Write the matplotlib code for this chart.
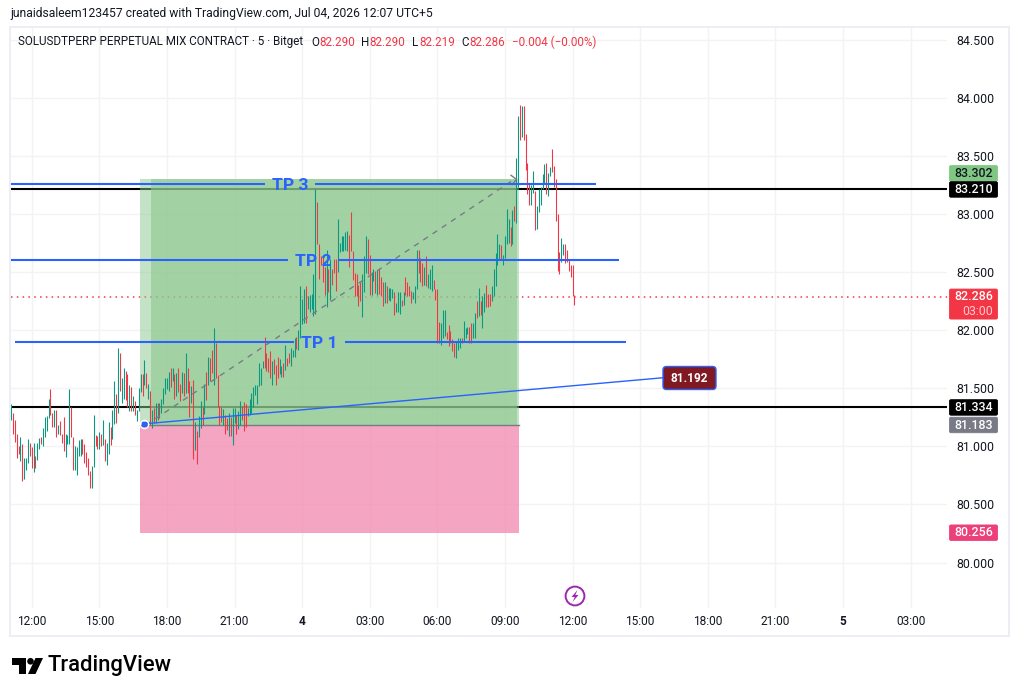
import matplotlib
matplotlib.use('Agg')
import matplotlib.pyplot as plt
from matplotlib.patches import Rectangle, Circle, Polygon, FancyBboxPatch

plt.rcParams['font.family'] = ['Roboto', 'DejaVu Sans']

# 5 minute bars
highs = [
    81.36, 81.29, 81.23, 81.11, 81.00, 81.08, 81.02, 80.90, 80.90, 81.06,
    81.03, 80.99, 81.03, 80.92, 81.03, 81.07, 81.08, 81.16, 81.25, 81.26,
    81.41, 81.49, 81.29, 81.31, 81.31, 81.18, 81.22, 81.11, 81.25, 81.11,
    81.10, 81.49, 81.34, 81.08, 81.00, 80.99, 81.05, 81.06, 81.06, 81.02,
    80.95, 80.90, 80.79, 80.83, 81.27, 81.10, 81.09, 81.12, 81.11, 81.23,
    81.06, 81.03, 81.21, 81.17, 81.31, 81.56, 81.45, 81.85, 81.80, 81.59,
    81.67, 81.65, 81.62, 81.53, 81.51, 81.43, 81.39, 81.31, 81.50, 81.62,
    81.62, 81.74, 81.63, 81.54, 81.48, 81.31, 81.33, 81.37, 81.37, 81.37,
    81.41, 81.50, 81.59, 81.59, 81.64, 81.67, 81.67, 81.62, 81.63, 81.67,
    81.54, 81.64, 81.63, 81.80, 81.67, 81.56, 81.52, 81.57, 81.21, 81.13,
    81.26, 81.39, 81.34, 81.54, 81.64, 81.77, 81.76, 81.83, 82.02, 81.89,
    81.61, 81.35, 81.34, 81.32, 81.27, 81.24, 81.29, 81.25, 81.33, 81.33,
    81.27, 81.30, 81.39, 81.35, 81.38, 81.36, 81.33, 81.41, 81.46, 81.51, 81.53,
    81.53, 81.72, 81.67, 81.73, 81.94, 81.80, 81.76, 81.82, 81.73, 81.75,
    81.70, 81.77, 81.75, 81.69, 81.72, 81.87, 81.76, 81.80, 81.85, 81.83,
    81.93, 81.94, 82.00, 82.38, 82.27, 82.35, 82.38, 82.29, 82.30, 82.31,
    82.48, 83.21, 83.10, 82.74, 82.64, 82.64, 82.54, 82.69, 82.53, 82.61,
    82.53, 82.61, 82.61, 82.96, 82.75, 82.81, 82.81, 82.84, 82.85, 82.82,
    83.02, 82.68, 82.49, 82.48, 82.39, 82.41, 82.48, 82.64, 82.81, 82.78,
    82.65, 82.50, 82.53, 82.51, 82.52, 82.53, 82.46, 82.41, 82.41, 82.38,
    82.36, 82.36, 82.35, 82.33, 82.23, 82.33, 82.33, 82.26, 82.33, 82.46,
    82.41, 82.38, 82.34, 82.33, 82.38, 82.69, 82.69, 82.62, 82.58, 82.54,
    82.64, 82.48, 82.53, 82.56, 82.43, 82.35, 82.35, 82.07, 82.06, 82.17,
    82.17, 81.98, 82.04, 81.99, 81.92, 81.89, 81.90, 81.93, 81.93, 81.93,
    82.08, 82.02, 82.03, 82.03, 82.06, 82.06, 82.15, 82.25, 82.36, 82.25,
    82.29, 82.32, 82.39, 82.31, 82.31, 82.38, 82.53, 82.66, 82.83, 82.74,
    82.73, 82.65, 82.81, 83.04, 82.96, 82.89, 83.03, 83.07, 83.48, 83.84,
    83.94, 83.93, 83.93, 83.69, 83.44, 83.26, 83.25, 83.37, 83.20, 83.07,
    83.21, 83.23, 83.34, 83.43, 83.44, 83.35, 83.40, 83.56, 83.41, 83.30,
    83.00, 82.67, 82.79, 82.74, 82.74, 82.69, 82.61, 82.56, 82.56, 82.30,
]
lows = [
    81.23, 81.11, 81.04, 80.90, 80.93, 80.87, 80.70, 80.72, 80.80, 80.86,
    80.92, 80.81, 80.78, 80.81, 80.88, 80.98, 81.02, 81.00, 81.08, 81.13,
    81.24, 81.27, 81.17, 81.17, 81.08, 81.11, 81.10, 81.03, 80.96, 80.91,
    81.02, 81.02, 81.08, 80.80, 80.80, 80.75, 80.92, 80.92, 80.93, 80.86,
    80.82, 80.75, 80.64, 80.64, 80.82, 81.00, 80.98, 80.98, 81.00, 81.01,
    80.87, 80.84, 80.93, 81.01, 81.06, 81.19, 81.20, 81.29, 81.48, 81.37,
    81.41, 81.40, 81.34, 81.30, 81.30, 81.30, 81.27, 81.22, 81.30, 81.47,
    81.43, 81.53, 81.50, 81.41, 81.18, 81.16, 81.20, 81.20, 81.23, 81.24,
    81.29, 81.36, 81.45, 81.49, 81.48, 81.51, 81.56, 81.41, 81.43, 81.47,
    81.39, 81.46, 81.43, 81.46, 81.46, 81.25, 81.37, 80.89, 80.97, 80.85,
    81.08, 81.16, 81.18, 81.28, 81.40, 81.53, 81.56, 81.63, 81.53, 81.59,
    81.34, 81.18, 81.21, 81.18, 81.11, 81.14, 81.09, 81.09, 81.01, 81.20,
    81.11, 81.15, 81.18, 81.23, 81.13, 81.17, 81.26, 81.27, 81.29, 81.34, 81.44,
    81.36, 81.52, 81.53, 81.67, 81.67, 81.65, 81.64, 81.59, 81.53, 81.62,
    81.53, 81.59, 81.62, 81.60, 81.60, 81.66, 81.69, 81.72, 81.69, 81.77,
    81.77, 81.84, 81.83, 81.93, 82.05, 82.06, 82.06, 82.18, 82.16, 82.18,
    82.12, 82.14, 82.74, 82.44, 82.56, 82.41, 82.30, 82.20, 82.33, 82.26,
    82.39, 82.49, 82.34, 82.50, 82.67, 82.68, 82.68, 82.69, 82.68, 82.54,
    82.68, 82.43, 82.29, 82.29, 82.21, 82.25, 82.11, 82.33, 82.49, 82.48,
    82.30, 82.30, 82.42, 82.32, 82.30, 82.31, 82.29, 82.21, 82.23, 82.23,
    82.26, 82.25, 82.28, 82.13, 82.16, 82.16, 82.14, 82.21, 82.22, 82.30,
    82.29, 82.29, 82.23, 82.27, 82.23, 82.35, 82.49, 82.41, 82.38, 82.39,
    82.38, 82.36, 82.35, 82.34, 82.35, 82.26, 81.89, 81.89, 81.87, 81.93,
    81.95, 81.92, 81.86, 81.89, 81.82, 81.77, 81.76, 81.83, 81.85, 81.89,
    81.90, 81.93, 81.97, 81.89, 81.89, 81.93, 81.93, 82.10, 82.12, 82.13,
    82.02, 82.16, 82.20, 82.20, 82.21, 82.25, 82.29, 82.38, 82.56, 82.60,
    82.60, 82.56, 82.62, 82.74, 82.75, 82.72, 82.74, 82.94, 82.92, 83.23,
    83.64, 83.66, 83.64, 83.38, 83.17, 83.08, 83.08, 83.18, 82.86, 82.87,
    83.02, 83.08, 83.21, 83.27, 83.17, 83.15, 83.33, 83.36, 83.23, 82.94,
    82.51, 82.48, 82.59, 82.65, 82.58, 82.59, 82.51, 82.46, 82.29, 82.22,
]
# g = close above open, r = close below open
directions = (
    "grrrrgrggg" "rrgrggrggg" "grrgrgrrrg" "ggrrggggrr" "rrrggrrgrg"
    "rggrggrgrg" "grrgrgrggg" "rgrgrgrgrg" "gggggrgrgr" "rgrgrrgrgr"
    "ggrgrgrrgr" "rrrgrrgrgg" "rggrrrggggg" "ggggrrrrgr" "rrggrgrrgg"
    "grggggrggg" "ggrrrrrgrg" "rrrggggggr" "rrrrrrgggr" "rggrgrrrgr"
    "gggrgggrgr" "rrrgggrrrg" "rgggrrrrgg" "grrrrrgggr" "gggrrggrgr"
    "ggrrrggggg" "rggggrgrgg" "rgrrrrggrg" "ggggrggrrr" "rrggrrrrrr"
)

price_ticks = [80.0, 80.5, 81.0, 81.5, 82.0, 82.5, 83.0, 83.5, 84.0, 84.5]
time_labels = ['12:00', '15:00', '18:00', '21:00', '4', '03:00', '06:00', '09:00',
               '12:00', '15:00', '18:00', '21:00', '5', '03:00']
first_tick_bar = 11
bars_per_tick = 36

# levels drawn on the chart
black_levels = [83.210, 81.334]
tp_names = ['TP 3', 'TP 2', 'TP 1']
tp_levels = [83.254, 82.600, 81.895]
last_price = 82.286
entry_price = 81.183
target_price = 83.302
stop_price = 80.256
trend_end_price = 81.59

BAR_PX = 1.878


def bar_at(px):
    return first_tick_bar + (px - 31.7) / BAR_PX


def price_px(p):
    return 446.3 - (p - 81) * 116.2


GREEN = '#089981'
RED = '#f23645'
BLUE = '#2962ff'
INK = '#131722'

fig = plt.figure(figsize=(10.2, 6.96), dpi=100, facecolor='white')
ax = fig.add_axes([11 / 1020, 1 - 608 / 696, (947 - 11) / 1020, (608 - 28) / 696])
ax.set_xlim(bar_at(11), bar_at(947))
ax.set_ylim(81 - (608 - 446.3) / 116.2, 81 + (446.3 - 28) / 116.2)
for s in ax.spines.values():
    s.set_visible(False)

ax.set_xticks([first_tick_bar + bars_per_tick * i for i in range(len(time_labels))])
ax.set_xticklabels(time_labels)
ax.yaxis.tick_right()
ax.set_yticks(price_ticks)
ax.set_yticklabels(['%.3f' % p for p in price_ticks])
ax.tick_params(axis='x', length=0, pad=5, labelsize=8.6, labelcolor=INK)
ax.tick_params(axis='y', length=0, pad=7, labelsize=8.9, labelcolor=INK)
for lab in ax.get_xticklabels():
    if lab.get_text() in ('4', '5'):
        lab.set_fontweight('bold')
ax.grid(True, color='#f3f3f4', lw=1)
ax.set_axisbelow(True)

for lv in black_levels:
    ax.axhline(lv, color='black', lw=1.5, zorder=1)
ax.axhline(last_price, color=RED, lw=1.1, ls=(0, (1, 2.8)), zorder=1.5)

# long position box
box_l, box_m, box_e, box_r = bar_at(140), bar_at(151), bar_at(516.8), bar_at(519)
ax.add_patch(Rectangle((box_l, entry_price), box_r - box_l, target_price - entry_price,
                       fc=(139 / 255, 199 / 255, 141 / 255, 0.5), ec='none', zorder=2))
ax.add_patch(Rectangle((box_m, entry_price), box_e - box_m, target_price - entry_price,
                       fc=(139 / 255, 199 / 255, 141 / 255, 0.59), ec='none', zorder=2))
ax.add_patch(Rectangle((box_l, stop_price - 0.005), box_r - box_l, entry_price - stop_price + 0.005,
                       fc=(242 / 255, 140 / 255, 177 / 255, 0.78), ec='none', zorder=2))
ax.plot([box_l, box_r], [entry_price, entry_price], color='#787b86', lw=1, zorder=2.5)

# candles, only wicks show at this zoom
bars = list(range(len(highs)))
ax.vlines(bars, lows, highs, colors=[GREEN if d == 'g' else RED for d in directions],
          lw=0.78, zorder=3, capstyle='butt')

# dashed path inside the box
ax.plot([bar_at(146), bar_at(515)], [entry_price, target_price], color='#787b86', lw=1,
        ls=(0, (4, 4)), zorder=3.5)
ax.plot([bar_at(511), bar_at(516.5), bar_at(512)],
        [target_price + 0.03, target_price - 0.005, target_price - 0.05], color='#787b86', lw=1, zorder=3.5)

# TP lines with the gap for their label
tp_start = [10, 10, 15]
tp_gap = [(265.3, 315), (287.7, 338), (294.3, 345)]
tp_end = [596, 619, 626]
for name, lv, st, gap, en in zip(tp_names, tp_levels, tp_start, tp_gap, tp_end):
    ax.plot([bar_at(st), bar_at(gap[0])], [lv, lv], color=BLUE, lw=1.5, zorder=5, solid_capstyle='butt', clip_on=False)
    ax.plot([bar_at(gap[1]), bar_at(en)], [lv, lv], color=BLUE, lw=1.5, zorder=5, solid_capstyle='butt')
    ax.text(bar_at((gap[0] + gap[1]) / 2), lv, name, color=BLUE, fontsize=12.6, fontweight='bold',
            ha='center', va='center_baseline', zorder=6)

# trend line
ax.plot([bar_at(144), bar_at(663)], [entry_price + 0.01, trend_end_price], color=BLUE, lw=1, zorder=5)
ax.plot([bar_at(144)], [entry_price + 0.01], marker='s', ms=3, mfc=BLUE, mec=BLUE, zorder=6)
ax.plot([bar_at(144)], [entry_price + 0.01], marker='o', ms=6, mfc='none', mec='white', mew=0.9, zorder=6)

# overlay in pixels for everything around the chart
ov = fig.add_axes([0, 0, 1, 1], facecolor='none')
ov.set_xlim(0, 1020)
ov.set_ylim(696, 0)
ov.axis('off')
ov.add_patch(Rectangle((10, 27), 999, 609, fc='none', ec='#eceef3', lw=1.4))

ov.text(10, 14, 'junaidsaleem123457 created with TradingView.com, Jul 04, 2026 12:07 UTC+5',
        fontsize=8.7, color=INK, va='center')
legend_parts = [(18, 'SOLUSDTPERP PERPETUAL MIX CONTRACT · 5 · Bitget', INK),
                (311, 'O', INK), (319, '82.290', RED), (361, 'H', INK), (369, '82.290', RED),
                (412, 'L', INK), (419, '82.219', RED), (461, 'C', INK), (469, '82.286', RED),
                (512, '−0.004 (−0.00%)', RED)]
for x, s, c in legend_parts:
    ov.text(x, 42, s, fontsize=8.35, color=c, va='center')


def price_box(value, fc, tc, center=None, sub=None):
    y = price_px(value) if center is None else center
    top = y - 8.3
    ov.add_patch(FancyBboxPatch((949.5, top + 0.5), 48, (31 if sub else 16.5) - 1,
                                boxstyle='round,pad=0,rounding_size=1.5', fc=fc, ec=fc, lw=0.6))
    ov.text(993, y, '%.3f' % value, fontsize=8.9, color=tc, ha='right', va='center', fontweight='medium')
    if sub:
        ov.text(993, y + 15, sub, fontsize=8.9, color='#ffc9cf', ha='right', va='center')


# the top box sits above its price so it clears the black one
price_box(target_price, '#81c784', INK, center=173.4)
price_box(black_levels[0], 'black', 'white')
price_box(last_price, RED, 'white', sub='03:00')
price_box(black_levels[1], 'black', 'white')
price_box(entry_price, '#787b86', 'white')
price_box(stop_price, '#ec407a', 'white')

# label at the end of the trend line
ov.add_patch(FancyBboxPatch((663, 366.5), 53, 23, boxstyle='round,pad=0,rounding_size=3.5',
                            fc='#801922', ec=BLUE, lw=1))
ov.text(689.5, 378.3, '81.192', color='white', fontsize=8.6, fontweight='bold', ha='center', va='center')

# lightning mark
ov.add_patch(Circle((575, 596), 9.4, fc='white', ec='#9c27b0', lw=1.4))
ov.add_patch(Polygon([(577.5, 590), (571.5, 597), (574.8, 597), (572.5, 602), (578.5, 595), (575.3, 595)],
                     fc='#9c27b0', ec='none'))

# TradingView logo
ov.add_patch(Polygon([(12, 658), (26, 658), (26, 674), (19, 674), (19, 665), (12, 665)], fc='black', ec='none'))
ov.add_patch(Circle((30.5, 661.3), 3.3, fc='black', ec='none'))
ov.add_patch(Polygon([(35.5, 658), (43, 658), (35.5, 674), (28, 674)], fc='black', ec='none'))
ov.text(48, 666, 'TradingView', fontsize=15.8, fontweight='medium', color='black', va='center')

fig.savefig('out.png', dpi=100)
